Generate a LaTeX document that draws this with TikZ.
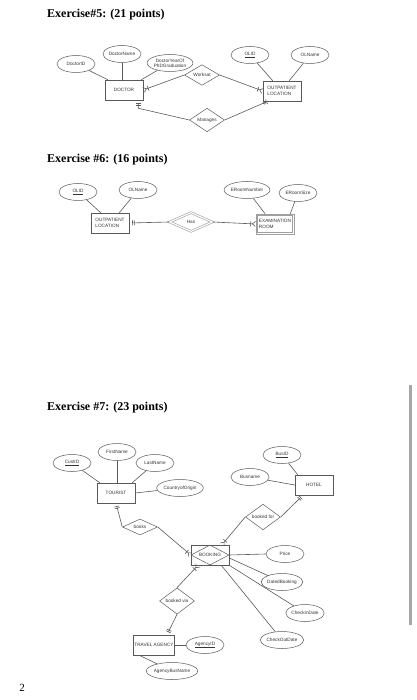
\documentclass[tikz,border=0pt]{standalone}
\usepackage{fontspec}
\setmainfont{Liberation Serif}
\setsansfont{Liberation Sans}
\usetikzlibrary{shapes.geometric,arrows.meta}
\definecolor{erline}{gray}{0.35}

\begin{document}
\begin{tikzpicture}[x=1pt,y=-1pt,
   attr/.style={ellipse,draw=erline,line width=.5pt,text=black!80,minimum width=38pt,minimum height=17pt,inner sep=0pt,font=\sffamily\fontsize{4.7}{5.2}\selectfont},
   ent/.style={rectangle,draw=erline,line width=.5pt,text=black!80,minimum width=38pt,minimum height=20pt,inner sep=1pt,font=\sffamily\fontsize{4.7}{5.7}\selectfont},
   rel/.style={diamond,draw=erline,line width=.5pt,text=black!80,minimum width=35pt,minimum height=14pt,inner sep=0pt,font=\sffamily\fontsize{4.7}{5.2}\selectfont},
   title/.style={anchor=west,inner sep=0pt,font=\bfseries\fontsize{12}{14}\selectfont},
   conn/.style={draw=erline,line width=.6pt},
   onlyone/.style={-{Bar[width=5pt,sep=1.2pt]Bar[width=5pt,sep=3pt]}},
   onemany/.style={-{Bar[width=5pt,sep=1pt]Straight Barb[reversed,length=3pt,width=5pt]}},
   zeroone/.style={-{Circle[open,length=3.5pt,width=3.5pt,sep=.5pt]Bar[width=5pt,sep=1pt]}}]
   \useasboundingbox (0,0) rectangle (416,700);

   % exercise 5
   \node[title] (t5) at (47,15) {Exercise\#5: (21 points)};
   \node[attr] (did) at (76,64) {DoctorID};
   \node[attr] (dname) at (122,54) {DoctorName};
   \node[attr,align=center] (dyear) at (170,63) {DoctorYearOf\\PhDGraduation};
   \node[ent] (doctor) at (124,90) {DOCTOR};
   \node[rel] (worksat) at (202,75) {Worksat};
   \node[rel] (manages) at (207,120) {Manages};
   \node[ent,align=left] (opl) at (282,91) {OUTPATIENT\\LOCATION};
   \node[attr] (olid) at (250,55) {\underline{OLID}};
   \node[attr] (olname) at (310,55) {OLName};

   \draw[conn] (did) -- ([xshift=3pt]doctor.north west);
   \draw[conn] (dname.south) -- (dname.south |- doctor.north);
   \draw[conn] (dyear) -- ([xshift=-2pt]doctor.north east);
   \draw[conn,onemany] (worksat.west) -- (doctor.east);
   \draw[conn,onemany] (worksat.east) -- (opl.west);
   \draw[conn,onlyone] (manages.west) -- ([xshift=-5pt,yshift=-8pt]doctor.south east) -- ([xshift=-5pt]doctor.south east);
   \draw[conn,zeroone] (manages.east) -- ([xshift=5pt]opl.south west);
   \draw[conn] (olid) -- ([xshift=10pt]opl.north west);
   \draw[conn] (olname) -- ([xshift=-12pt]opl.north east);

   % exercise 6
   \node[title] (t6) at (47,160) {Exercise \#6: (16 points)};
   \node[attr] (olid2) at (78,192) {\underline{OLID}};
   \node[attr] (olname2) at (138,190) {OLName};
   \node[ent,align=left] (opl2) at (110,223) {OUTPATIENT\\LOCATION};
   \node[rel,draw=gray!75,line width=.6pt,double=white,double distance=1.2pt,minimum width=43pt,minimum height=19pt] (has) at (191,222) {Has};
   \node[ent,draw=gray!75,line width=.6pt,align=left,inner sep=2.5pt] (exam) at (275,224) {EXAMINATION\\ROOM};
   \draw[gray!75,line width=.6pt] ([shift={(1.8,1.8)}]exam.north west) rectangle ([shift={(-1.8,-1.8)}]exam.south east);
   \node[attr] (ernum) at (247,190) {ERoomNumber};
   \node[attr] (ersize) at (298,193) {ERoomSize};

   \draw[conn] (olid2) -- ([xshift=10pt]opl2.north west);
   \draw[conn] (olname2) -- ([xshift=-10pt]opl2.north east);
   \draw[conn,onlyone] (has.west) -- (opl2.east);
   \draw[conn,onemany] (has.east) -- (exam.west);
   \draw[conn] (ernum) -- ([xshift=-10pt]exam.north);
   \draw[conn] (ersize) -- ([xshift=-4pt]exam.north east);

   % exercise 7
   \node[title] (t7) at (47,408) {Exercise \#7: (23 points)};
   \node[attr] (custid) at (72,463) {\underline{CustID}};
   \node[attr] (fname) at (117,452) {FirstName};
   \node[attr] (lname) at (155,463) {LastName};
   \node[attr] (country) at (180,488) {CountryofOrigin};
   \node[ent] (tourist) at (116,493) {TOURIST};
   \node[rel] (books) at (140,527) {books};
   \node[attr] (busid) at (282,455) {\underline{BusID}};
   \node[attr] (busname) at (250,477) {Busname};
   \node[ent] (hotel) at (314,485) {HOTEL};
   \node[rel] (bookedfor) at (263,517) {booked for};
   \node[ent] (booking) at (210,555) {BOOKING};
   \node[diamond,draw=erline,line width=.5pt,minimum width=38pt,minimum height=20pt,inner sep=0pt] (bookingd) at (booking) {};
   \node[attr] (price) at (285,554) {Price};
   \node[attr] (dated) at (282,582) {DatedBooking};
   \node[attr] (checkin) at (305,613) {CheckInDate};
   \node[attr] (checkout) at (282,640) {CheckOutDate};
   \node[rel] (bookedvia) at (177,601) {booked via};
   \node[ent] (agency) at (154,645) {TRAVEL AGENCY};
   \node[attr] (agencyid) at (205,645) {\underline{AgencyID}};
   \node[attr] (agencybn) at (172,671) {AgencyBusName};

   \draw[conn] (custid) -- ([xshift=3pt]tourist.north west);
   \draw[conn] (fname.south) -- (fname.south |- tourist.north);
   \draw[conn] (lname) -- ([xshift=-3pt]tourist.north east);
   \draw[conn] (country) -- (tourist.east);
   \draw[conn,onlyone] (books.west) -- (tourist.south);
   \draw[conn,onemany] (books.east) -- (booking.west);
   \draw[conn] (busid) -- ([xshift=3pt]hotel.north west);
   \draw[conn] (busname) -- (hotel.west);
   \draw[conn,onlyone] (bookedfor.east) -- ([xshift=-11pt]hotel.south);
   \draw[conn,onemany] (bookedfor.west) -- ([xshift=12pt]booking.north);
   \draw[conn,onemany] (bookedvia.north) -- ([xshift=-12pt]booking.south);
   \draw[conn,onlyone] (bookedvia.south) -- ([xshift=13pt]agency.north);
   \draw[conn] (agency.east) -- (agencyid.west);
   \draw[conn] (agencybn) -- ([xshift=6pt]agency.south west);
   \draw[conn] (booking.east) -- (price.west);
   \draw[conn] ([yshift=-3pt]booking.east) -- (dated);
   \draw[conn] (booking.south east) -- (checkin);
   \draw[conn] ([xshift=-8pt]booking.south east) -- (checkout);

   \fill[gray!70] (409,385) rectangle (412,625);
   \node[font=\fontsize{11}{13}\selectfont] (pnum) at (22,688) {2};
\end{tikzpicture}
\end{document}
